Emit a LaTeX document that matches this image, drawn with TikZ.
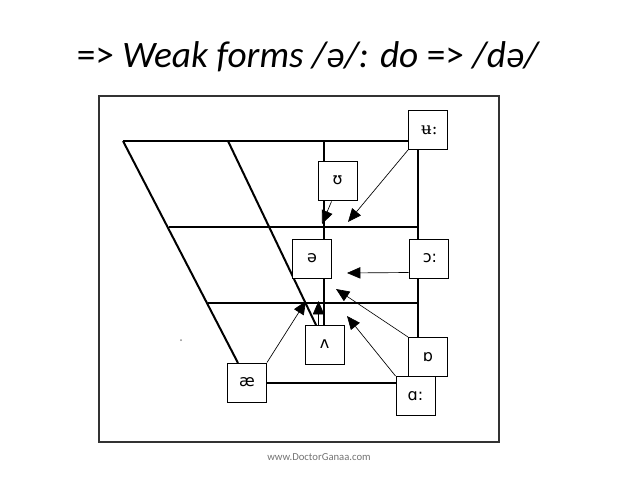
\documentclass[tikz,border=0pt]{standalone}
\usepackage{fontspec}
\setmainfont{Carlito}
\newfontfamily\ipafont{DejaVu Sans}
\newfontfamily\ipaserif{DejaVu Serif}
\usetikzlibrary{arrows.meta,calc}

\tikzset{
  vowelbox/.style={draw, fill=white, line width=0.75pt, minimum size=29.25pt, inner sep=0pt, font=\ipafont\fontsize{12}{12}\selectfont},
  chartline/.style={line width=1.5pt},
  pointer/.style={line width=0.5pt, -{Triangle[length=10pt,width=8.5pt]}},
}

\begin{document}
\begin{tikzpicture}[x=0.75pt,y=0.75pt,yscale=-1,xscale=1]
\useasboundingbox (0,0) rectangle (638,478);

% Text Node
\node (title) at (308.5,68) [anchor=base, font=\fontsize{28}{32}\selectfont] {=> \textit{Weak forms /ə/: do} => \textit{/də/}};

%Shape: Rectangle [frame]
\draw [line width=1.5pt, color=black!80] (99,96) rectangle (499,442);

%Straight Lines [chart grid]
\draw [chartline] (123,141) -- (418,141) ;
\draw [chartline] (169,227) -- (418,227) ;
\draw [chartline] (208,303) -- (418,303) ;
\draw [chartline] (247,383) -- (415,383) ;
\draw [chartline] (123,141) -- (238,363) ;
\draw [chartline] (228,141) -- (316,325) ;
\draw [chartline] (324,141) -- (324,325) ;
\draw [chartline] (418,141) -- (418,337) ;

% stray dot
\fill [color=black!45] (181,340) circle [radius=1];

% Vowel boxes
\node [vowelbox, font=\ipaserif\fontsize{12.5}{12.5}\selectfont] (ubar) at (428,130) {\,ʉ:};
\node [vowelbox] (upsilon) at (337.5,180.5) {ʊ};
\node [vowelbox] (schwa) at (312,258.5) {ə};
\node [vowelbox] (openo) at (428.5,258.5) {\,ɔ:};
\node [vowelbox] (wedge) at (324.5,344.5) {ʌ};
\node [vowelbox] (turneda) at (428,357) {ɒ};
\node [vowelbox] (ash) at (247,382.5) {æ};
\node [vowelbox] (alpha) at (415.5,396) {ɑ:};

% arrow targets
\coordinate (tipupsilon) at (322,224);
\coordinate (tipubar) at (348,222);
\coordinate (tipopeno) at (347,273);
\coordinate (tipturneda) at (336,289);
\coordinate (tipalpha) at (347,316);
\coordinate (tipash) at (306,301);
\coordinate (tipwedge) at (318.5,301);

%Straight Lines [arrows]
\draw [pointer] ($(upsilon.south)+(-6,1)$) -- (tipupsilon) ;
\draw [pointer] (ubar.south west) -- (tipubar) ;
\draw [pointer] ($(openo.west)+(0,14)$) -- (tipopeno) ;
\draw [pointer] (turneda.north west) -- (tipturneda) ;
\draw [pointer] (alpha.north west) -- (tipalpha) ;
\draw [pointer] (ash.north east) -- (tipash) ;
\draw [pointer] ($(wedge.north)+(-6,0)$) -- (tipwedge) ;

% Text Node
\node (footer) at (319,457) [font=\fontsize{8}{9}\selectfont, color=black!55] {www.DoctorGanaa.com};

\end{tikzpicture}
\end{document}
